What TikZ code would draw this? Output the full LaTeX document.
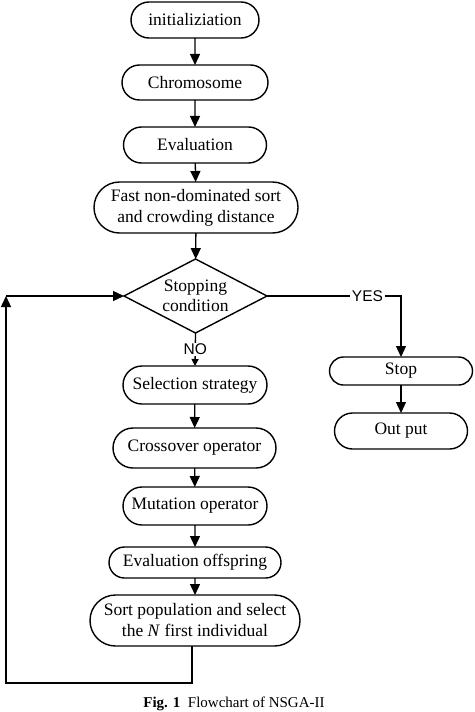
\documentclass[tikz,border=0pt]{standalone}
\usepackage{fontspec}
\setmainfont{Liberation Serif}
\newfontfamily\lblfont{Liberation Sans}
\usetikzlibrary{shapes.misc,shapes.geometric,arrows.meta}
\begin{document}
\begin{tikzpicture}[x=1pt,y=-1pt,
  every node/.style={inner sep=0pt, outer sep=0pt},
  procbox/.style={rounded rectangle, draw, line width=1.4pt, align=center,
    font=\fontsize{17.5}{21}\selectfont},
  decbox/.style={diamond, draw, line width=1.4pt, align=center, aspect=1.93,
    font=\fontsize{17.5}{20}\selectfont},
  conn/.style={line width=1.3pt},
  arr/.style={conn, -{Triangle[length=11pt,width=10pt]}},
  sarr/.style={conn, -{Triangle[length=7pt,width=7pt]}},
  lbl/.style={font=\lblfont\fontsize{15.5}{17}\selectfont, fill=white, inner xsep=1.5pt, inner ysep=1pt}]
\useasboundingbox (0,0) rectangle (474,712);
\fill[white] (0,0) rectangle (474,712);

\node[procbox, minimum width=128pt, minimum height=36pt] (init) at (195,20) {initializiation};
\node[procbox, minimum width=146pt, minimum height=35pt] (chrom) at (195,82.5) {Chromosome};
\node[procbox, minimum width=143pt, minimum height=36pt] (eval) at (195,145) {Evaluation};
\node[procbox, minimum width=204pt, minimum height=51pt] (fast) at (196,207.5) {Fast non-dominated sort\\and crowding distance};
\node[decbox, minimum width=143pt, minimum height=74pt] (dec) at (195.5,296) {Stopping\\condition};
\node[procbox, minimum width=144pt, minimum height=38pt] (sel) at (195,385) {Selection strategy};
\node[procbox, minimum width=163pt, minimum height=40pt] (cross) at (194.5,448) {Crossover operator};
\node[procbox, minimum width=144pt, minimum height=38pt] (mut) at (195,506) {Mutation operator};
\node[procbox, minimum width=172pt, minimum height=31pt] (evoff) at (195,562.5) {Evaluation offspring};
\node[procbox, minimum width=210pt, minimum height=51pt] (sort) at (195,620.5) {Sort population and select\\the \textit{N} first individual};
\node[procbox, minimum width=143pt, minimum height=28pt] (stop) at (401,371) {Stop};
\node[procbox, minimum width=133pt, minimum height=36pt] (out) at (401,431) {Out put};

\coordinate (yc) at (401,296);
\coordinate (sb) at (192,646);
\coordinate (bl) at (6,683);
\coordinate (br) at (192,683);
\coordinate (tl) at (6,296);

\draw[arr] (init) -- (chrom);
\draw[arr] (chrom) -- (eval);
\draw[arr] (eval) -- (fast);
\draw[arr] (fast) -- (dec);
\draw[sarr] (dec.south) -- node[lbl] {NO} (sel.north);
\draw[arr] (sel) -- (cross);
\draw[arr] (cross) -- (mut);
\draw[arr] (mut) -- (evoff);
\draw[arr] (evoff) -- (sort);
\draw[arr] (dec.east) -- node[lbl, pos=0.75] {YES} (yc) -- (stop.north);
\draw[arr] (stop) -- (out);
\draw[arr] (sb) -- (br) -- (bl) -- (tl);
\draw[arr] (tl) -- (dec.west);

\node[anchor=base, font=\fontsize{15}{18}\selectfont] (cap) at (234,707) {\textbf{Fig. 1}\enspace Flowchart of NSGA-II};
\end{tikzpicture}
\end{document}
